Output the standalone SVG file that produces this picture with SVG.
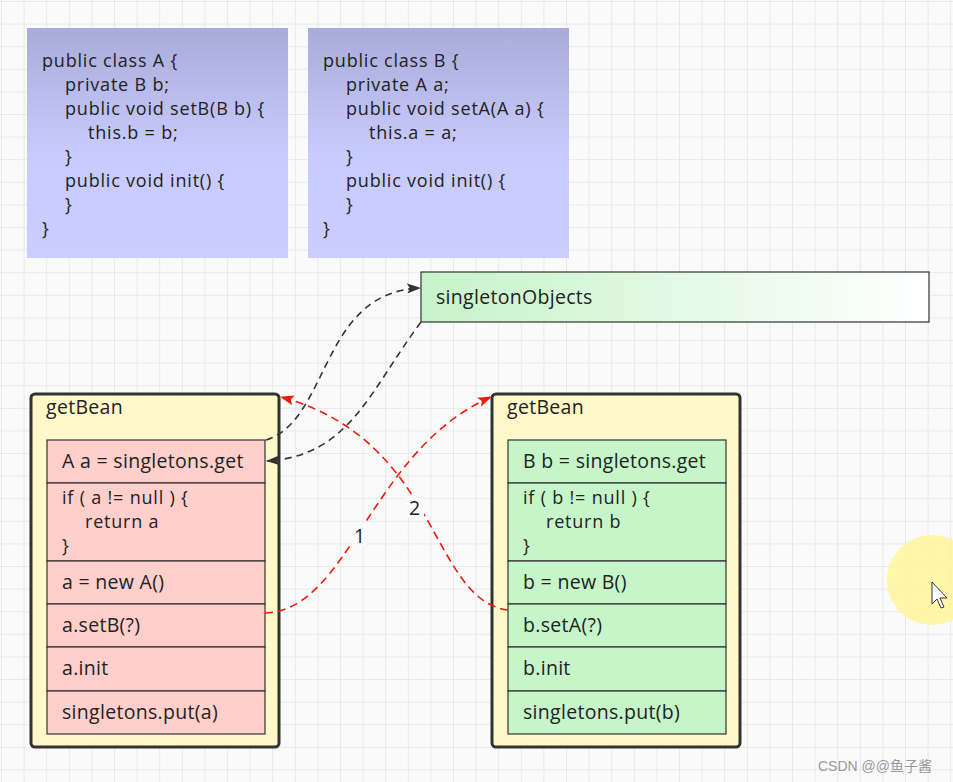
<svg xmlns="http://www.w3.org/2000/svg" width="953" height="782" viewBox="0 0 953 782">
<defs>
<pattern id="grid" width="22.6" height="22.6" patternUnits="userSpaceOnUse" x="2" y="2">
<path d="M22.6 0V22.6H0" fill="none" stroke="#e4e4e4" stroke-width="1.5"/>
</pattern>
<linearGradient id="cls" x1="0" y1="0" x2="0" y2="1"><stop offset="0" stop-color="#a9acd9"/><stop offset="0.55" stop-color="#c8cbfd"/><stop offset="1" stop-color="#cbcdff"/></linearGradient>
<linearGradient id="so" x1="0" y1="0" x2="1" y2="0"><stop offset="0" stop-color="#c6f3c9"/><stop offset="1" stop-color="#ffffff"/></linearGradient>
<marker id="ak" markerWidth="14" markerHeight="10" refX="13" refY="5" orient="auto" markerUnits="userSpaceOnUse"><path d="M0,0L14,5L0,10L3,5Z" fill="#333"/></marker>
<marker id="ar" markerWidth="14" markerHeight="10" refX="13" refY="5" orient="auto" markerUnits="userSpaceOnUse"><path d="M0,0L14,5L0,10L3,5Z" fill="#f01a0a"/></marker>
<style>
text{font-family:"Open Sans","Noto Sans","Liberation Sans",sans-serif;font-size:19.5px;letter-spacing:0.3px;fill:#222}
.c{font-size:18px;letter-spacing:0.8px}
.outer{stroke:#333;stroke-width:3}
.row{stroke:#333;stroke-width:1.2}
.dk{fill:none;stroke:#333;stroke-width:1.6;stroke-dasharray:7,5}
.rd{fill:none;stroke:#f01a0a;stroke-width:1.6;stroke-dasharray:8,5}
</style>
</defs>
<rect width="953" height="782" fill="#fafafa"/>
<rect width="953" height="782" fill="url(#grid)"/>
<g id="classA">
<rect x="27" y="28" width="261" height="230" fill="url(#cls)"/>
<text class="c" x="42" y="67">public class A {</text>
<text class="c" x="65" y="91">private B b;</text>
<text class="c" x="65" y="115">public void setB(B b) {</text>
<text class="c" x="88" y="139">this.b = b;</text>
<text class="c" x="65" y="163">}</text>
<text class="c" x="65" y="187">public void init() {</text>
<text class="c" x="65" y="211">}</text>
<text class="c" x="42" y="235">}</text>
</g>
<g id="classB">
<rect x="308" y="28" width="261" height="230" fill="url(#cls)"/>
<text class="c" x="323" y="67">public class B {</text>
<text class="c" x="346" y="91">private A a;</text>
<text class="c" x="346" y="115">public void setA(A a) {</text>
<text class="c" x="369" y="139">this.a = a;</text>
<text class="c" x="346" y="163">}</text>
<text class="c" x="346" y="187">public void init() {</text>
<text class="c" x="346" y="211">}</text>
<text class="c" x="323" y="235">}</text>
</g>
<g id="singletonObjects">
<rect x="421" y="272" width="508" height="50" fill="url(#so)" stroke="#333" stroke-width="1.2"/>
<text x="436" y="304">singletonObjects</text>
</g>
<g id="getBeanA">
<rect x="31" y="394" width="248" height="353" rx="4" fill="#fff9c9" class="outer"/>
<text x="46" y="414">getBean</text>
<g fill="#ffcfcb" class="row">
<rect x="47" y="440" width="218" height="43"/><rect x="47" y="483" width="218" height="78"/><rect x="47" y="561" width="218" height="43"/><rect x="47" y="604" width="218" height="43"/><rect x="47" y="647" width="218" height="44"/><rect x="47" y="691" width="218" height="43"/>
</g>
<text x="62" y="468">A a = singletons.get</text>
<text class="c" x="62" y="504">if ( a != null ) {</text>
<text class="c" x="85" y="528">return a</text>
<text class="c" x="62" y="552">}</text>
<text x="62" y="589">a = new A()</text>
<text x="62" y="632">a.setB(?)</text>
<text x="62" y="675">a.init</text>
<text x="62" y="719">singletons.put(a)</text>
</g>
<g id="getBeanB">
<rect x="492" y="394" width="248" height="353" rx="4" fill="#fff9c9" class="outer"/>
<text x="507" y="414">getBean</text>
<g fill="#c6f5c9" class="row">
<rect x="508" y="440" width="218" height="43"/><rect x="508" y="483" width="218" height="78"/><rect x="508" y="561" width="218" height="43"/><rect x="508" y="604" width="218" height="43"/><rect x="508" y="647" width="218" height="44"/><rect x="508" y="691" width="218" height="43"/>
</g>
<text x="523" y="468">B b = singletons.get</text>
<text class="c" x="523" y="504">if ( b != null ) {</text>
<text class="c" x="546" y="528">return b</text>
<text class="c" x="523" y="552">}</text>
<text x="523" y="589">b = new B()</text>
<text x="523" y="632">b.setA(?)</text>
<text x="523" y="675">b.init</text>
<text x="523" y="719">singletons.put(b)</text>
</g>
<g id="connectors">
<path class="dk" d="M266,440 C330,420 320,292 420,288" marker-end="url(#ak)"/>
<path class="dk" d="M421,322 C370,390 350,456 267,461" marker-end="url(#ak)"/>
<path class="rd" d="M265,613 C350,610 370,450 491,397" marker-end="url(#ar)"/>
<path class="rd" d="M508,610 C430,600 440,440 281,397" marker-end="url(#ar)"/>
<rect x="352" y="524" width="14" height="22" fill="#fafafa"/>
<rect x="406" y="496" width="18" height="22" fill="#fafafa"/>
<text x="354" y="543">1</text>
<text x="409" y="515">2</text>
</g>
<circle cx="932" cy="580" r="45" fill="#fff59a" opacity="0.85"/>
<path d="M932,582 L932,604 L937,599 L941,608 L944,607 L940,598 L947,598 Z" fill="#fff" stroke="#333" stroke-width="1"/>
<text x="818" y="771" style="font-size:14px;letter-spacing:0;fill:#999;font-family:'Liberation Sans','Noto Sans CJK SC',sans-serif">CSDN @@鱼子酱</text>
</svg>
